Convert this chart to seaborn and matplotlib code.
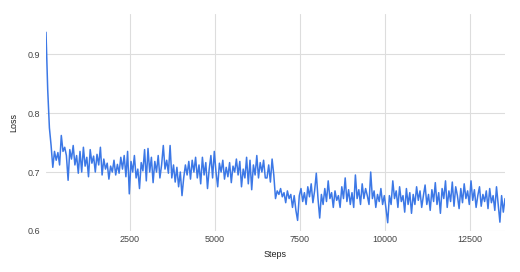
import numpy as np
import pandas as pd
import seaborn as sns
import matplotlib
matplotlib.use("Agg")
import matplotlib.pyplot as plt

steps = list(range(30, 13531, 50))

loss = [
    0.937, 0.840, 0.775, 0.745, 0.708, 0.735, 0.720, 0.733, 0.712, 0.762,
    0.735, 0.742, 0.728, 0.686, 0.738, 0.722, 0.745, 0.712, 0.728, 0.698,
    0.735, 0.700, 0.742, 0.710, 0.725, 0.692, 0.738, 0.715, 0.727, 0.700,
    0.730, 0.712, 0.742, 0.695, 0.722, 0.705, 0.715, 0.688, 0.710, 0.700,
    0.720, 0.695, 0.713, 0.698, 0.725, 0.705, 0.728, 0.692, 0.735, 0.663,
    0.718, 0.700, 0.728, 0.690, 0.705, 0.672, 0.716, 0.702, 0.738, 0.685,
    0.740, 0.700, 0.725, 0.682, 0.718, 0.700, 0.728, 0.690, 0.712, 0.745,
    0.705, 0.720, 0.698, 0.745, 0.690, 0.712, 0.683, 0.708, 0.675, 0.700,
    0.660, 0.690, 0.712, 0.695, 0.718, 0.688, 0.720, 0.700, 0.725, 0.690,
    0.712, 0.680, 0.725, 0.695, 0.716, 0.672, 0.705, 0.728, 0.690, 0.735,
    0.700, 0.675, 0.715, 0.700, 0.720, 0.688, 0.708, 0.692, 0.716, 0.682,
    0.710, 0.700, 0.722, 0.695, 0.718, 0.675, 0.705, 0.690, 0.725, 0.680,
    0.720, 0.670, 0.712, 0.695, 0.728, 0.690, 0.716, 0.700, 0.720, 0.690,
    0.690, 0.712, 0.683, 0.722, 0.695, 0.655, 0.668, 0.662, 0.672, 0.658,
    0.665, 0.648, 0.668, 0.655, 0.662, 0.640, 0.660, 0.635, 0.618, 0.660,
    0.672, 0.650, 0.665, 0.645, 0.675, 0.658, 0.680, 0.648, 0.668, 0.698,
    0.655, 0.622, 0.662, 0.645, 0.672, 0.650, 0.685, 0.655, 0.665, 0.640,
    0.668, 0.652, 0.660, 0.640, 0.675, 0.655, 0.690, 0.650, 0.670, 0.645,
    0.665, 0.640, 0.695, 0.655, 0.670, 0.645, 0.680, 0.655, 0.672, 0.660,
    0.645, 0.700, 0.655, 0.668, 0.640, 0.662, 0.650, 0.672, 0.645, 0.660,
    0.638, 0.614, 0.660, 0.645, 0.685, 0.655, 0.668, 0.640, 0.675, 0.650,
    0.660, 0.632, 0.672, 0.645, 0.665, 0.630, 0.662, 0.645, 0.675, 0.652,
    0.668, 0.640, 0.660, 0.678, 0.645, 0.662, 0.635, 0.670, 0.650, 0.682,
    0.645, 0.665, 0.630, 0.672, 0.655, 0.685, 0.640, 0.668, 0.650, 0.683,
    0.642, 0.675, 0.660, 0.638, 0.672, 0.648, 0.680, 0.655, 0.668, 0.645,
    0.685, 0.652, 0.670, 0.640, 0.660, 0.675, 0.642, 0.662, 0.650, 0.668,
    0.638, 0.672, 0.648, 0.660, 0.635, 0.675, 0.645, 0.615, 0.660, 0.632,
    0.655,
]

xticks = [2500, 5000, 7500, 10000, 12500]
yticks = [0.6, 0.7, 0.8, 0.9]

df = pd.DataFrame({"Steps": steps, "Loss": loss})

sns.set_theme(style="white")
plt.rcParams["font.family"] = ["Liberation Sans", "DejaVu Sans"]

fig = plt.figure(figsize=(5.2, 2.72), dpi=100)
ax = fig.add_axes([46 / 520, 1 - 231 / 272, 459 / 520, 217 / 272])

sns.lineplot(data=df, x="Steps", y="Loss", ax=ax, color="#3c78e6", linewidth=1.1)

ax.set_xlim(steps[0], steps[-1])
ax.set_ylim(0.6, 0.968)
ax.set_xticks(xticks)
ax.set_xticklabels([str(t) for t in xticks])
ax.set_yticks(yticks)
ax.set_yticklabels([f"{t:.1f}" for t in yticks])
ax.grid(True, color="#dddddd", linewidth=0.8)
ax.set_axisbelow(True)
for s in ax.spines.values():
    s.set_visible(False)
ax.tick_params(axis="both", length=0, labelsize=6.5, colors="#444444")
ax.tick_params(axis="y", pad=4)
ax.tick_params(axis="x", pad=3)
ax.set_xlabel("Steps", fontsize=6.5, color="#222222", labelpad=4)
ax.set_ylabel("Loss", fontsize=6.5, color="#222222", labelpad=7)

fig.savefig("out.png", dpi=100)
